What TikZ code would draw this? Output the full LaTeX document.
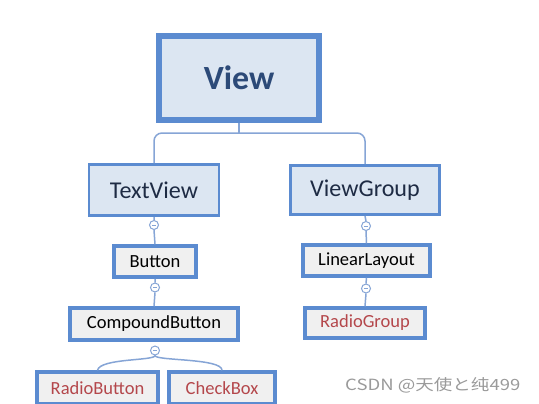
\documentclass[tikz,border=0pt]{standalone}
\usepackage{fontspec}
\setmainfont{Carlito}
\newfontfamily\cjk{Noto Sans CJK SC}
\definecolor{bord}{HTML}{5B8BD0}
\definecolor{conn}{HTML}{86A5D6}
\definecolor{lblue}{HTML}{DCE6F2}
\definecolor{lgray}{HTML}{F0F0F0}
\definecolor{dblue}{HTML}{2C4A78}
\definecolor{tdark}{HTML}{1E2B44}
\definecolor{rtext}{HTML}{B4474B}
\definecolor{wm}{HTML}{9A9A9A}
\tikzset{
  bigbox/.style={draw=bord, line width=3pt, fill=lblue, inner sep=0pt},
  midbox/.style={draw=bord, line width=3pt, fill=lblue, inner sep=0pt, text=tdark, font=\fontsize{24.2}{28}\selectfont},
  smallbox/.style={draw=bord, line width=3.5pt, fill=lgray, inner sep=0pt, font=\fontsize{18.6}{21}\selectfont},
  redtext/.style={text=rtext},
  link/.style={draw=conn, line width=1.5pt},
  knob/.style={circle, draw=conn, fill=white, line width=1pt, minimum size=9pt, inner sep=0pt}
}
\begin{document}
\begin{tikzpicture}[x=1bp,y=-1bp]
\useasboundingbox (0,0) rectangle (539,403);
\clip (0,0) rectangle (539,403);
\fill[white] (0,0) rectangle (539,403);
% boxes
\node[bigbox, line width=6pt, minimum width=160bp, minimum height=84bp, text=dblue, font=\fontsize{34}{38}\selectfont\bfseries] (view) at (239,78) {View};
\node[midbox, minimum width=130bp, minimum height=51bp] (tv) at (154,190) {TextView};
\node[midbox, minimum width=149bp, minimum height=49bp] (vg) at (365,190) {ViewGroup};
\node[smallbox, minimum width=82bp, minimum height=31bp] (btn) at (155,261.5) {Button};
\node[smallbox, minimum width=127bp, minimum height=31bp] (ll) at (366.5,260.5) {LinearLayout};
\node[smallbox, redtext, minimum width=120bp, minimum height=30bp] (rg) at (365,323) {RadioGroup};
\node[smallbox, minimum width=168bp, minimum height=32bp] (cb) at (154,324) {CompoundButton};
\node[smallbox, redtext, minimum width=121bp, minimum height=32bp] (rb) at (97.5,388) {RadioButton};
\node[smallbox, redtext, minimum width=106bp, minimum height=32bp] (ck) at (222,388) {CheckBox};
% top connectors
\coordinate (hj) at (239,133);
\path[link] (view.south) -- (hj);
\path[link, rounded corners=8bp] (tv.north) |- (hj) -| (vg.north);
% knobs
\node[knob] (k1) at (154,225) {};
\node[knob] (k2) at (155,287.5) {};
\node[knob] (k3) at (366,226) {};
\node[knob] (k4) at (366,288.5) {};
\node[knob] (k5) at (155,350.5) {};
\path[link] (tv.south) -- (k1.north) (k1.south) -- (btn.north);
\path[link] (btn.south) -- (k2.north) (k2.south) -- (cb.north);
\path[link] (vg.south) -- (k3.north) (k3.south) -- (ll.north);
\path[link] (ll.south) -- (k4.north) (k4.south) -- (rg.north);
\path[link] (k5.south) .. controls (155,361) and (100,358) .. (rb.north);
\path[link] (k5.south) .. controls (155,361) and (222,358) .. (ck.north);
\foreach \k in {k1,k2,k3,k4,k5} \draw[conn, line width=0.9pt] ([xshift=-2.2bp]\k.center) -- ([xshift=2.2bp]\k.center);
% watermark
\node[anchor=west, text=wm, inner sep=0pt, font=\cjk\fontsize{15.5}{17}\selectfont] (wmk) at (345,385) {\scalebox{1.2}[1]{CSDN @天使と纯499}};
\end{tikzpicture}
\end{document}
